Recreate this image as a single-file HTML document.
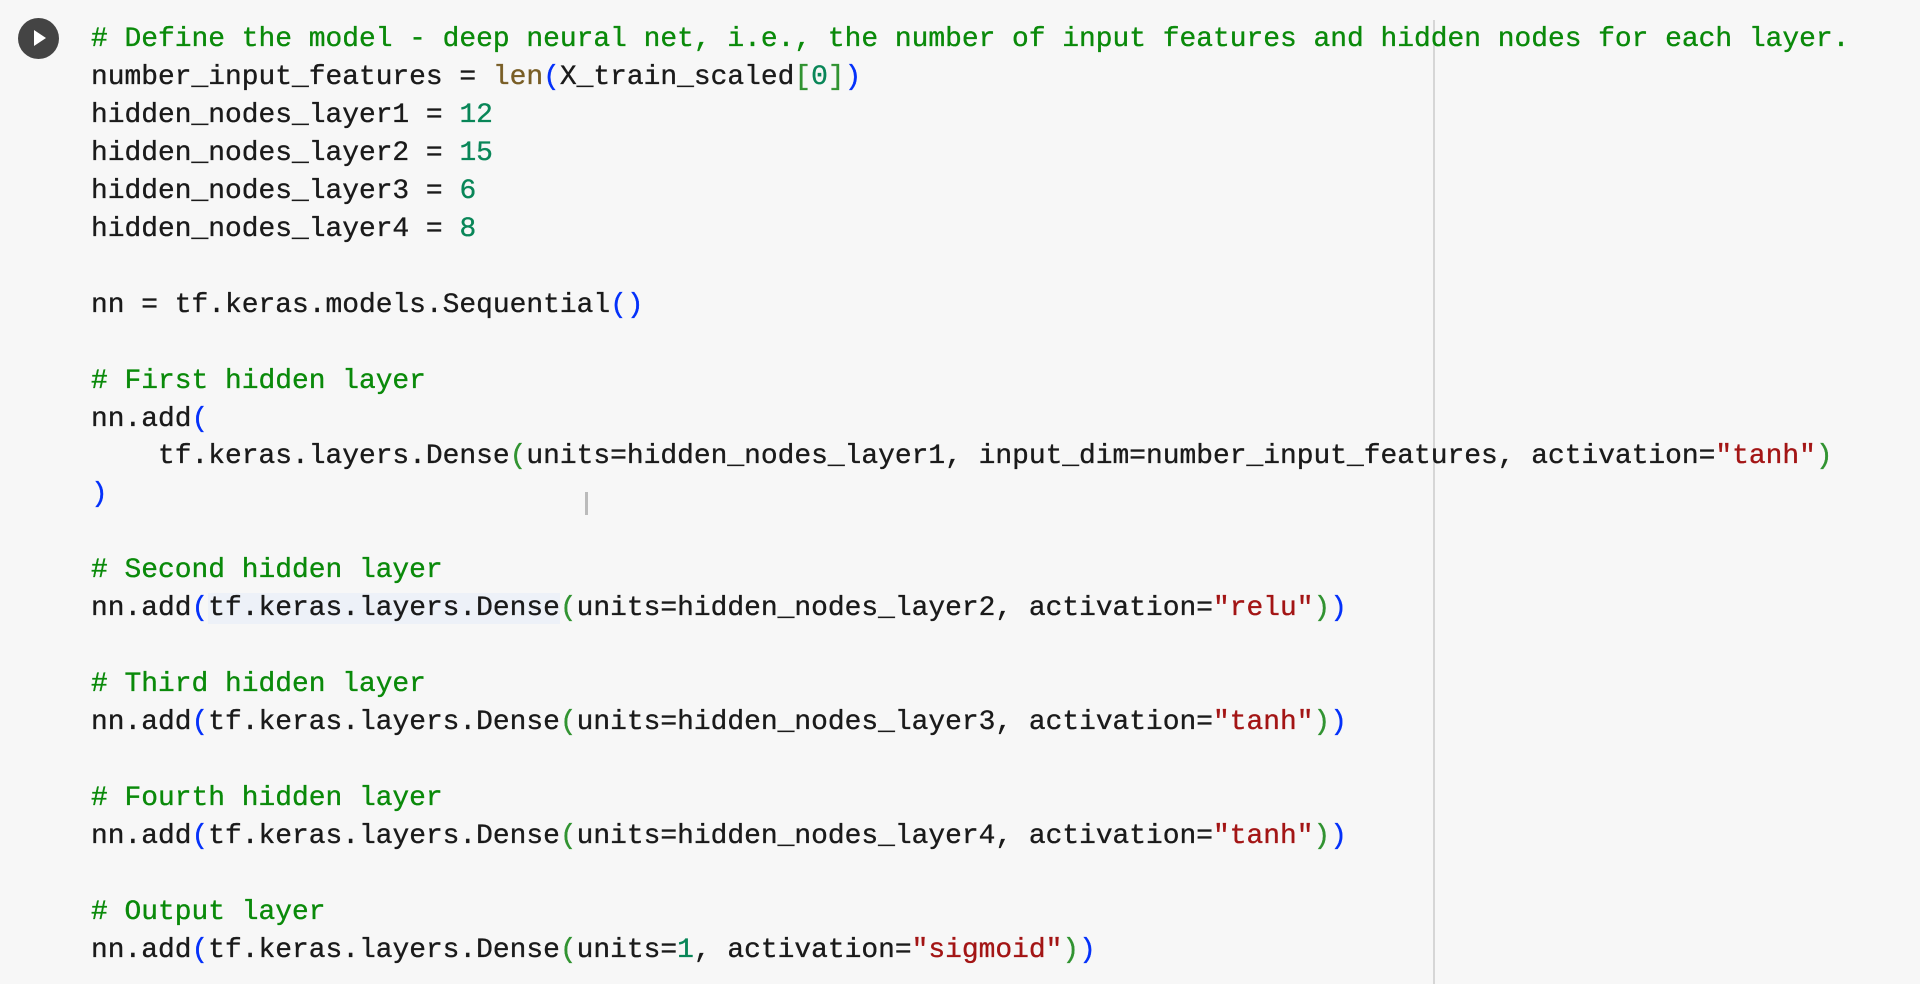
<!DOCTYPE html>
<html><head><meta charset="utf-8"><style>
html,body{margin:0;padding:0;width:1920px;height:984px;background:#f7f7f7;overflow:hidden;position:relative}
pre{position:absolute;left:91px;top:21px;margin:0;font-family:"Liberation Mono",monospace;font-size:27.92px;line-height:37.96px;color:#1a1a1a;-webkit-text-stroke:0.35px currentColor}
.c{color:#0a8a0a}.n{color:#098658}.f{color:#795e26}.s{color:#a31515}.b{color:#0431fa}.g{color:#319331}
.hl{background:#edf1f8}
.run{position:absolute;left:18px;top:18px;width:41px;height:41px;border-radius:50%;background:#444}
.run:after{content:"";position:absolute;left:16px;top:12px;border-left:12px solid #fff;border-top:8.5px solid transparent;border-bottom:8.5px solid transparent}
.vl{position:absolute;left:1433px;top:20px;width:2px;height:964px;background:#d6d6d6}
.cur{position:absolute;left:585px;top:492px;width:3px;height:23px;background:#bbb}
</style></head><body>
<div class="run"></div>
<div class="vl"></div>
<div class="cur"></div>
<pre><span class="c"># Define the model - deep neural net, i.e., the number of input features and hidden nodes for each layer.</span>
number_input_features = <span class="f">len</span><span class="b">(</span>X_train_scaled<span class="g">[</span><span class="n">0</span><span class="g">]</span><span class="b">)</span>
hidden_nodes_layer1 = <span class="n">12</span>
hidden_nodes_layer2 = <span class="n">15</span>
hidden_nodes_layer3 = <span class="n">6</span>
hidden_nodes_layer4 = <span class="n">8</span>

nn = tf.keras.models.Sequential<span class="b">()</span>

<span class="c"># First hidden layer</span>
nn.add<span class="b">(</span>
    tf.keras.layers.Dense<span class="g">(</span>units=hidden_nodes_layer1, input_dim=number_input_features, activation=<span class="s">"tanh"</span><span class="g">)</span>
<span class="b">)</span>

<span class="c"># Second hidden layer</span>
nn.add<span class="b">(</span><span class="hl">tf.keras.layers.Dense</span><span class="g">(</span>units=hidden_nodes_layer2, activation=<span class="s">"relu"</span><span class="g">)</span><span class="b">)</span>

<span class="c"># Third hidden layer</span>
nn.add<span class="b">(</span>tf.keras.layers.Dense<span class="g">(</span>units=hidden_nodes_layer3, activation=<span class="s">"tanh"</span><span class="g">)</span><span class="b">)</span>

<span class="c"># Fourth hidden layer</span>
nn.add<span class="b">(</span>tf.keras.layers.Dense<span class="g">(</span>units=hidden_nodes_layer4, activation=<span class="s">"tanh"</span><span class="g">)</span><span class="b">)</span>

<span class="c"># Output layer</span>
nn.add<span class="b">(</span>tf.keras.layers.Dense<span class="g">(</span>units=<span class="n">1</span>, activation=<span class="s">"sigmoid"</span><span class="g">)</span><span class="b">)</span></pre>
</body></html>
